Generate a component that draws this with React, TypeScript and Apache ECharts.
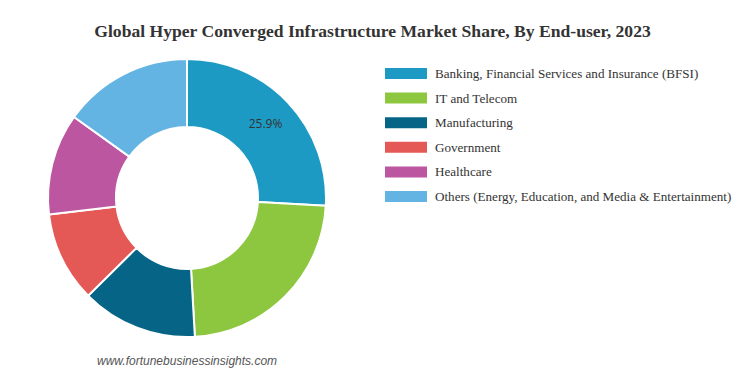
import React, { useEffect, useRef } from "react";
import * as echarts from "echarts";

const categories = [
  "Banking, Financial Services and Insurance (BFSI)",
  "IT and Telecom",
  "Manufacturing",
  "Government",
  "Healthcare",
  "Others (Energy, Education, and Media & Entertainment)",
];
const shares = [25.9, 23.2, 13.5, 10.5, 11.8, 15.1];
const colors = ["#1d9ac3", "#8dc63f", "#066487", "#e45955", "#bc56a0", "#64b4e3"];
const shownLabels = [true, false, false, false, false, false];

export default function App() {
  const ref = useRef<HTMLDivElement>(null);
  useEffect(() => {
    if (!ref.current) return;
    const chart = echarts.init(ref.current, null, { renderer: "svg" });
    chart.setOption({
      animation: false,
      title: {
        text: "Global Hyper Converged Infrastructure Market Share, By End-user, 2023",
        left: "center",
        top: 9,
        textStyle: {
          fontFamily: "Liberation Serif",
          fontSize: 17.6,
          fontWeight: "bold",
          color: "#333",
        },
      },
      legend: {
        orient: "vertical",
        left: 370,
        top: 53,
        itemWidth: 44,
        itemHeight: 13,
        itemGap: 9.6,
        icon: "rect",
        textStyle: {
          fontFamily: "Liberation Serif",
          fontSize: 13.1,
          color: "#333",
          padding: [0, 0, 0, 2],
        },
        data: categories,
      },
      graphic: [
        {
          type: "text",
          left: 89,
          top: 347,
          style: {
            text: "www.fortunebusinessinsights.com",
            font: "italic 12px 'Liberation Sans', Arial, sans-serif",
            fill: "#555",
          },
        },
      ],
      series: [
        {
          type: "pie",
          center: [179, 190],
          radius: [71, 139],
          startAngle: 90,
          clockwise: true,
          itemStyle: { borderColor: "#fff", borderWidth: 2 },
          emphasis: { disabled: true },
          label: { show: false },
          labelLine: { show: false },
          data: categories.map((name, i) => ({
            name,
            value: shares[i],
            itemStyle: { color: colors[i] },
            label: {
              show: shownLabels[i],
              position: "inside",
              formatter: "{c}%",
              fontFamily: "Open Sans",
              fontSize: 12,
              color: "#333",
            },
          })),
        },
      ],
    });
    return () => chart.dispose();
  }, []);
  return <div ref={ref} style={{ width: 729, height: 362 }} />;
}
